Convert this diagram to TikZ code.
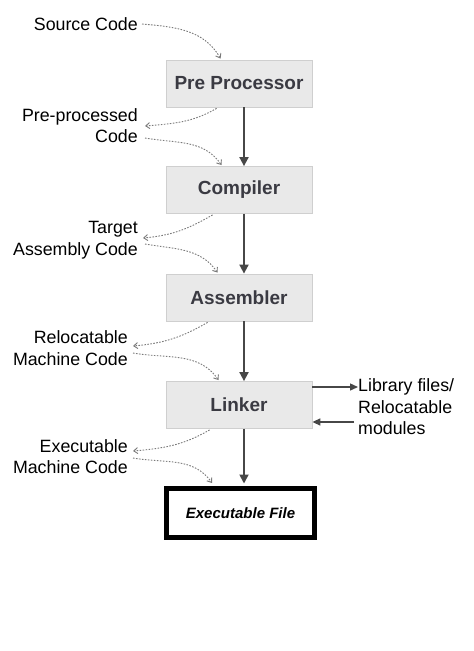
\documentclass[tikz,border=0pt]{standalone}
\usepackage{fontspec}
\setmainfont{Liberation Sans}
\usetikzlibrary{arrows.meta,calc}
\definecolor{boxfill}{HTML}{E9E9E9}
\definecolor{boxline}{HTML}{CFCFCF}
\definecolor{boxtext}{HTML}{3A3A42}
\definecolor{flowcol}{HTML}{474747}
\definecolor{dotcol}{HTML}{7A7A7A}
\tikzset{
  proc/.style={draw=boxline, fill=boxfill, line width=0.8pt, minimum width=146pt, minimum height=47pt,
    inner sep=0pt, text=boxtext, font=\fontsize{19}{22}\selectfont\bfseries},
  outbox/.style={draw=black, fill=white, line width=5pt, minimum width=148pt, minimum height=49pt,
    inner sep=0pt, font=\fontsize{15}{18}\selectfont\bfseries\itshape},
  lbl/.style={inner sep=0pt, font=\fontsize{17.8}{21.5}\selectfont},
  flow/.style={draw=flowcol, line width=1.8pt, -{Triangle[length=9pt,width=9pt]}},
  side/.style={draw=flowcol, line width=1.4pt, -{Triangle[length=8pt,width=7pt]}},
  dotarrow/.style={draw=dotcol, line width=0.9pt, dash pattern=on 1.6pt off 1.4pt,
    -{Straight Barb[length=4pt,width=6pt]}},
}
\begin{document}
\begin{tikzpicture}[x=1pt,y=-1pt]
\useasboundingbox (0,0) rectangle (474,651);
% boxes
\node[proc] (pre) at (239,83.5) {Pre Processor};
\node[proc] (comp) at (239,190) {Compiler};
\node[proc] (asm) at (239,297.5) {Assembler};
\node[proc] (link) at (239,405) {Linker};
\node[outbox] (exe) at (240.5,513) {Executable File};
\coordinate (ax) at (244,0);
% labels
\node[lbl, anchor=east] (src) at (138,24) {Source Code};
\node[lbl, anchor=east, align=right] (ppc) at (138,125.5) {Pre-processed\\Code};
\node[lbl, anchor=east, align=right] (tac) at (138,240) {Target\\Assembly Code};
\node[lbl, anchor=east, align=right] (rmc) at (128,348) {Relocatable\\Machine Code};
\node[lbl, anchor=east, align=right] (emc) at (128,456.5) {Executable\\Machine Code};
\node[lbl, anchor=west, align=left] (lib) at (358,407) {Library files/\\Relocatable\\modules};
% main flow
\draw[flow] (pre.south -| ax) -- (comp.north -| ax);
\draw[flow] (comp.south -| ax) -- (asm.north -| ax);
\draw[flow] (asm.south -| ax) -- (link.north -| ax);
\draw[flow] (link.south -| ax) -- ($(exe.north -| ax)+(0,-2.5)$);
% side arrows
\draw[side] (link.east |- 0,387) -- (lib.west |- 0,387);
\draw[side] ($(lib.west |- 0,422)+(-4,0)$) -- (link.east |- 0,422);
% dotted arrows
\draw[dotarrow] ($(src.east)+(4,0)$) to[out=-5,in=120] ($(pre.north west)+(55,-1)$);
\draw[dotarrow] ($(pre.south west)+(51,1)$) to[out=-150,in=5] ($(ppc.east)+(7,0.5)$);
\draw[dotarrow] ($(ppc.east)+(7,12.5)$) to[out=-10,in=125] ($(comp.north west)+(56,-1)$);
\draw[dotarrow] ($(comp.south west)+(47,1)$) to[out=-150,in=5] ($(tac.east)+(5,-2)$);
\draw[dotarrow] ($(tac.east)+(7,4)$) to[out=-10,in=125] ($(asm.north west)+(52,-1)$);
\draw[dotarrow] ($(asm.south west)+(42,1)$) to[out=-150,in=5] ($(rmc.east)+(5,-2)$);
\draw[dotarrow] ($(rmc.east)+(5,5)$) to[out=-10,in=125] ($(link.north west)+(53,-1)$);
\draw[dotarrow] ($(link.south west)+(44,1)$) to[out=-150,in=5] ($(emc.east)+(5,-5.5)$);
\draw[dotarrow] ($(emc.east)+(5,1.5)$) to[out=-10,in=125] ($(exe.north west)+(48,-3)$);
\end{tikzpicture}
\end{document}
